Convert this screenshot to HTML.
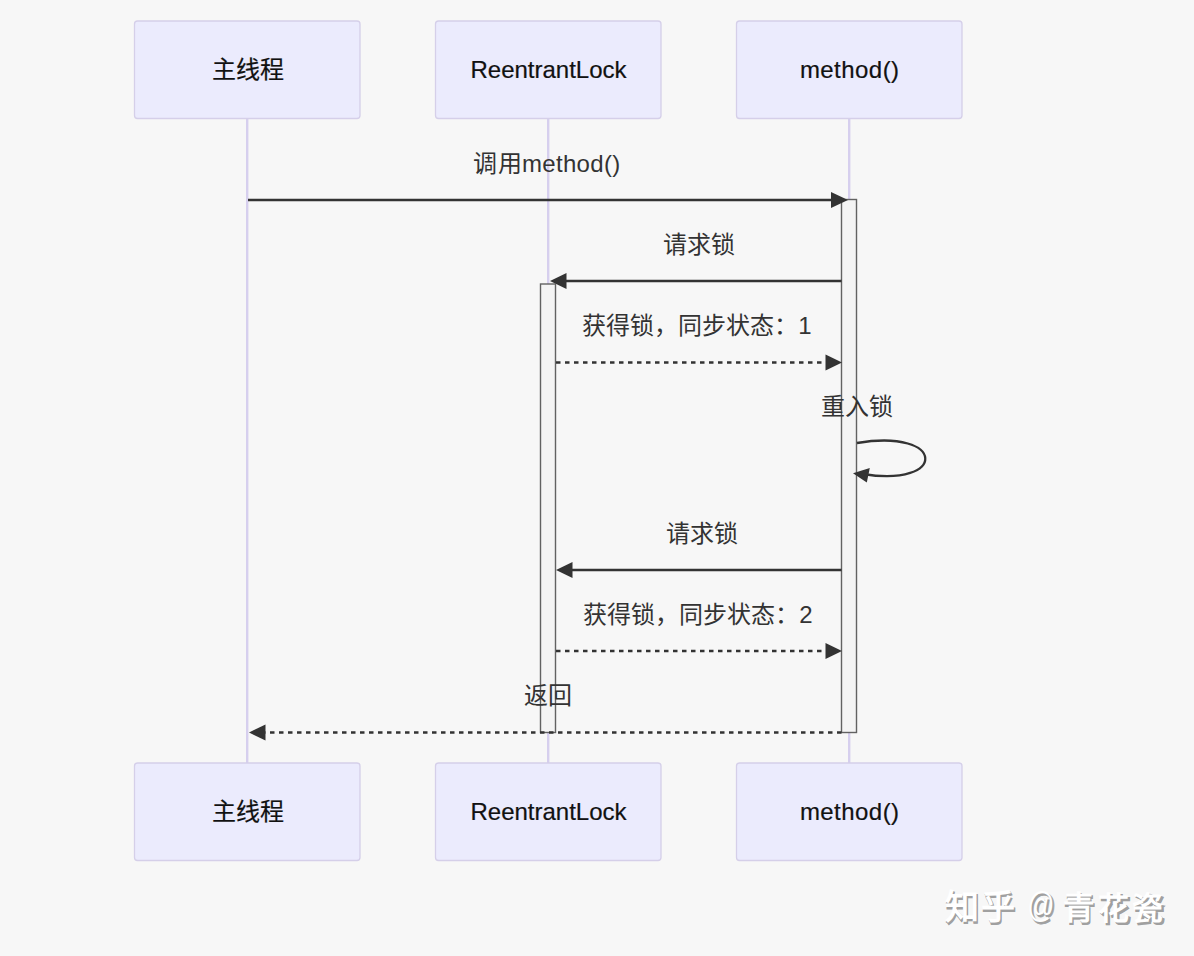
<!DOCTYPE html>
<html lang="zh-CN"><head><meta charset="utf-8">
<style>
html,body{margin:0;padding:0;background:#f7f7f7;}
body{width:1194px;height:956px;overflow:hidden;position:relative;}
svg{position:absolute;left:0;top:0;}
text{font-family:"Liberation Sans",sans-serif;}
.actor{fill:#ebebfd;stroke:#d5cfe9;stroke-width:1.3;}
.life{stroke:#d6cfee;stroke-width:2.4;}
.at{font-size:24px;fill:#111;stroke:#111;stroke-width:0.2px;text-anchor:middle;}
.mt{font-size:24px;fill:#333;text-anchor:middle;}
.ml{stroke:#333;stroke-width:2.3;fill:none;}
.dash{stroke-dasharray:4.5,4.5;}
.act{fill:#f4f4f4;stroke:#626262;stroke-width:1.4;}
.ah{fill:#333;}
</style></head><body>
<svg width="1194" height="956" viewBox="0 0 1194 956">
  <!-- lifelines -->
  <line class="life" x1="247.2" y1="118" x2="247.2" y2="763"/>
  <line class="life" x1="548.2" y1="118" x2="548.2" y2="763"/>
  <line class="life" x1="849.2" y1="118" x2="849.2" y2="763"/>
  <!-- top actors -->
  <rect class="actor" x="134.5" y="21" width="225.5" height="97.5" rx="3"/>
  <rect class="actor" x="435.5" y="21" width="225.5" height="97.5" rx="3"/>
  <rect class="actor" x="736.5" y="21" width="225.5" height="97.5" rx="3"/>
  <text class="at" x="247.5" y="78">主线程</text>
  <text class="at" x="548.5" y="78">ReentrantLock</text>
  <text class="at" x="849.7" y="78" letter-spacing="0.45">method()</text>
  <!-- bottom actors -->
  <rect class="actor" x="134.5" y="763" width="225.5" height="97.5" rx="3"/>
  <rect class="actor" x="435.5" y="763" width="225.5" height="97.5" rx="3"/>
  <rect class="actor" x="736.5" y="763" width="225.5" height="97.5" rx="3"/>
  <text class="at" x="247.5" y="820">主线程</text>
  <text class="at" x="548.5" y="820">ReentrantLock</text>
  <text class="at" x="849.7" y="820" letter-spacing="0.45">method()</text>
  <!-- activations -->
  <rect class="act" x="841.5" y="199.5" width="15" height="533"/>
  <rect class="act" x="540.5" y="284" width="15" height="448.5"/>
  <!-- messages -->
  <text class="mt" x="547" y="172" letter-spacing="0.3">调用method()</text>
  <line class="ml" x1="248" y1="200" x2="834" y2="200"/>
  <path class="ah" d="M848,200 L831,192 L831,208 Z"/>

  <text class="mt" x="699" y="253">请求锁</text>
  <line class="ml" x1="841.5" y1="281" x2="560" y2="281"/>
  <path class="ah" d="M550,281 L566.5,273 L566.5,289 Z"/>

  <text class="mt" x="697" y="334">获得锁，同步状态：1</text>
  <line class="ml dash" x1="556" y1="362.5" x2="830" y2="362.5"/>
  <path class="ah" d="M842,362.5 L825.5,354.5 L825.5,370.5 Z"/>

  <text class="mt" x="857" y="415">重入锁</text>
  <path class="ml" d="M857,443 C947,428 947,488 863,474"/>
  <path class="ah" d="M853,473.2 L869.8,467.9 L866.8,482.6 Z"/>

  <text class="mt" x="702" y="542">请求锁</text>
  <line class="ml" x1="841.5" y1="570" x2="566" y2="570"/>
  <path class="ah" d="M556,570 L572.5,562 L572.5,578 Z"/>

  <text class="mt" x="698" y="623">获得锁，同步状态：2</text>
  <line class="ml dash" x1="556" y1="651" x2="830" y2="651"/>
  <path class="ah" d="M842,651 L825.5,643 L825.5,659 Z"/>

  <text class="mt" x="548" y="704">返回</text>
  <line class="ml dash" x1="841.5" y1="732.5" x2="258" y2="732.5"/>
  <path class="ah" d="M249,732.5 L265.5,724.5 L265.5,740.5 Z"/>
</svg>
<svg width="1194" height="956" viewBox="0 0 1194 956" style="position:absolute;left:0;top:0">
<g font-weight="bold" fill="#a0a0a0" stroke="#a0a0a0" stroke-width="0.8" transform="translate(0.8,0.8)">
<text x="945.5" y="920" font-size="34">知</text><text x="981.5" y="920" font-size="34">乎</text><text x="0" y="0" font-size="35" font-weight="normal" transform="translate(1028.5,918) scale(0.76,1)">@</text><text x="1063.5" y="920" font-size="31.5">青</text><text x="1099" y="920" font-size="31">花</text><text x="1133" y="920" font-size="31">瓷</text>
</g>
<g font-weight="bold" fill="#ffffff" transform="translate(-1,-1)">
<text x="945.5" y="920" font-size="34">知</text><text x="981.5" y="920" font-size="34">乎</text><text x="0" y="0" font-size="35" font-weight="normal" transform="translate(1028.5,918) scale(0.76,1)">@</text><text x="1063.5" y="920" font-size="31.5">青</text><text x="1099" y="920" font-size="31">花</text><text x="1133" y="920" font-size="31">瓷</text>
</g>
</svg>
</body></html>
